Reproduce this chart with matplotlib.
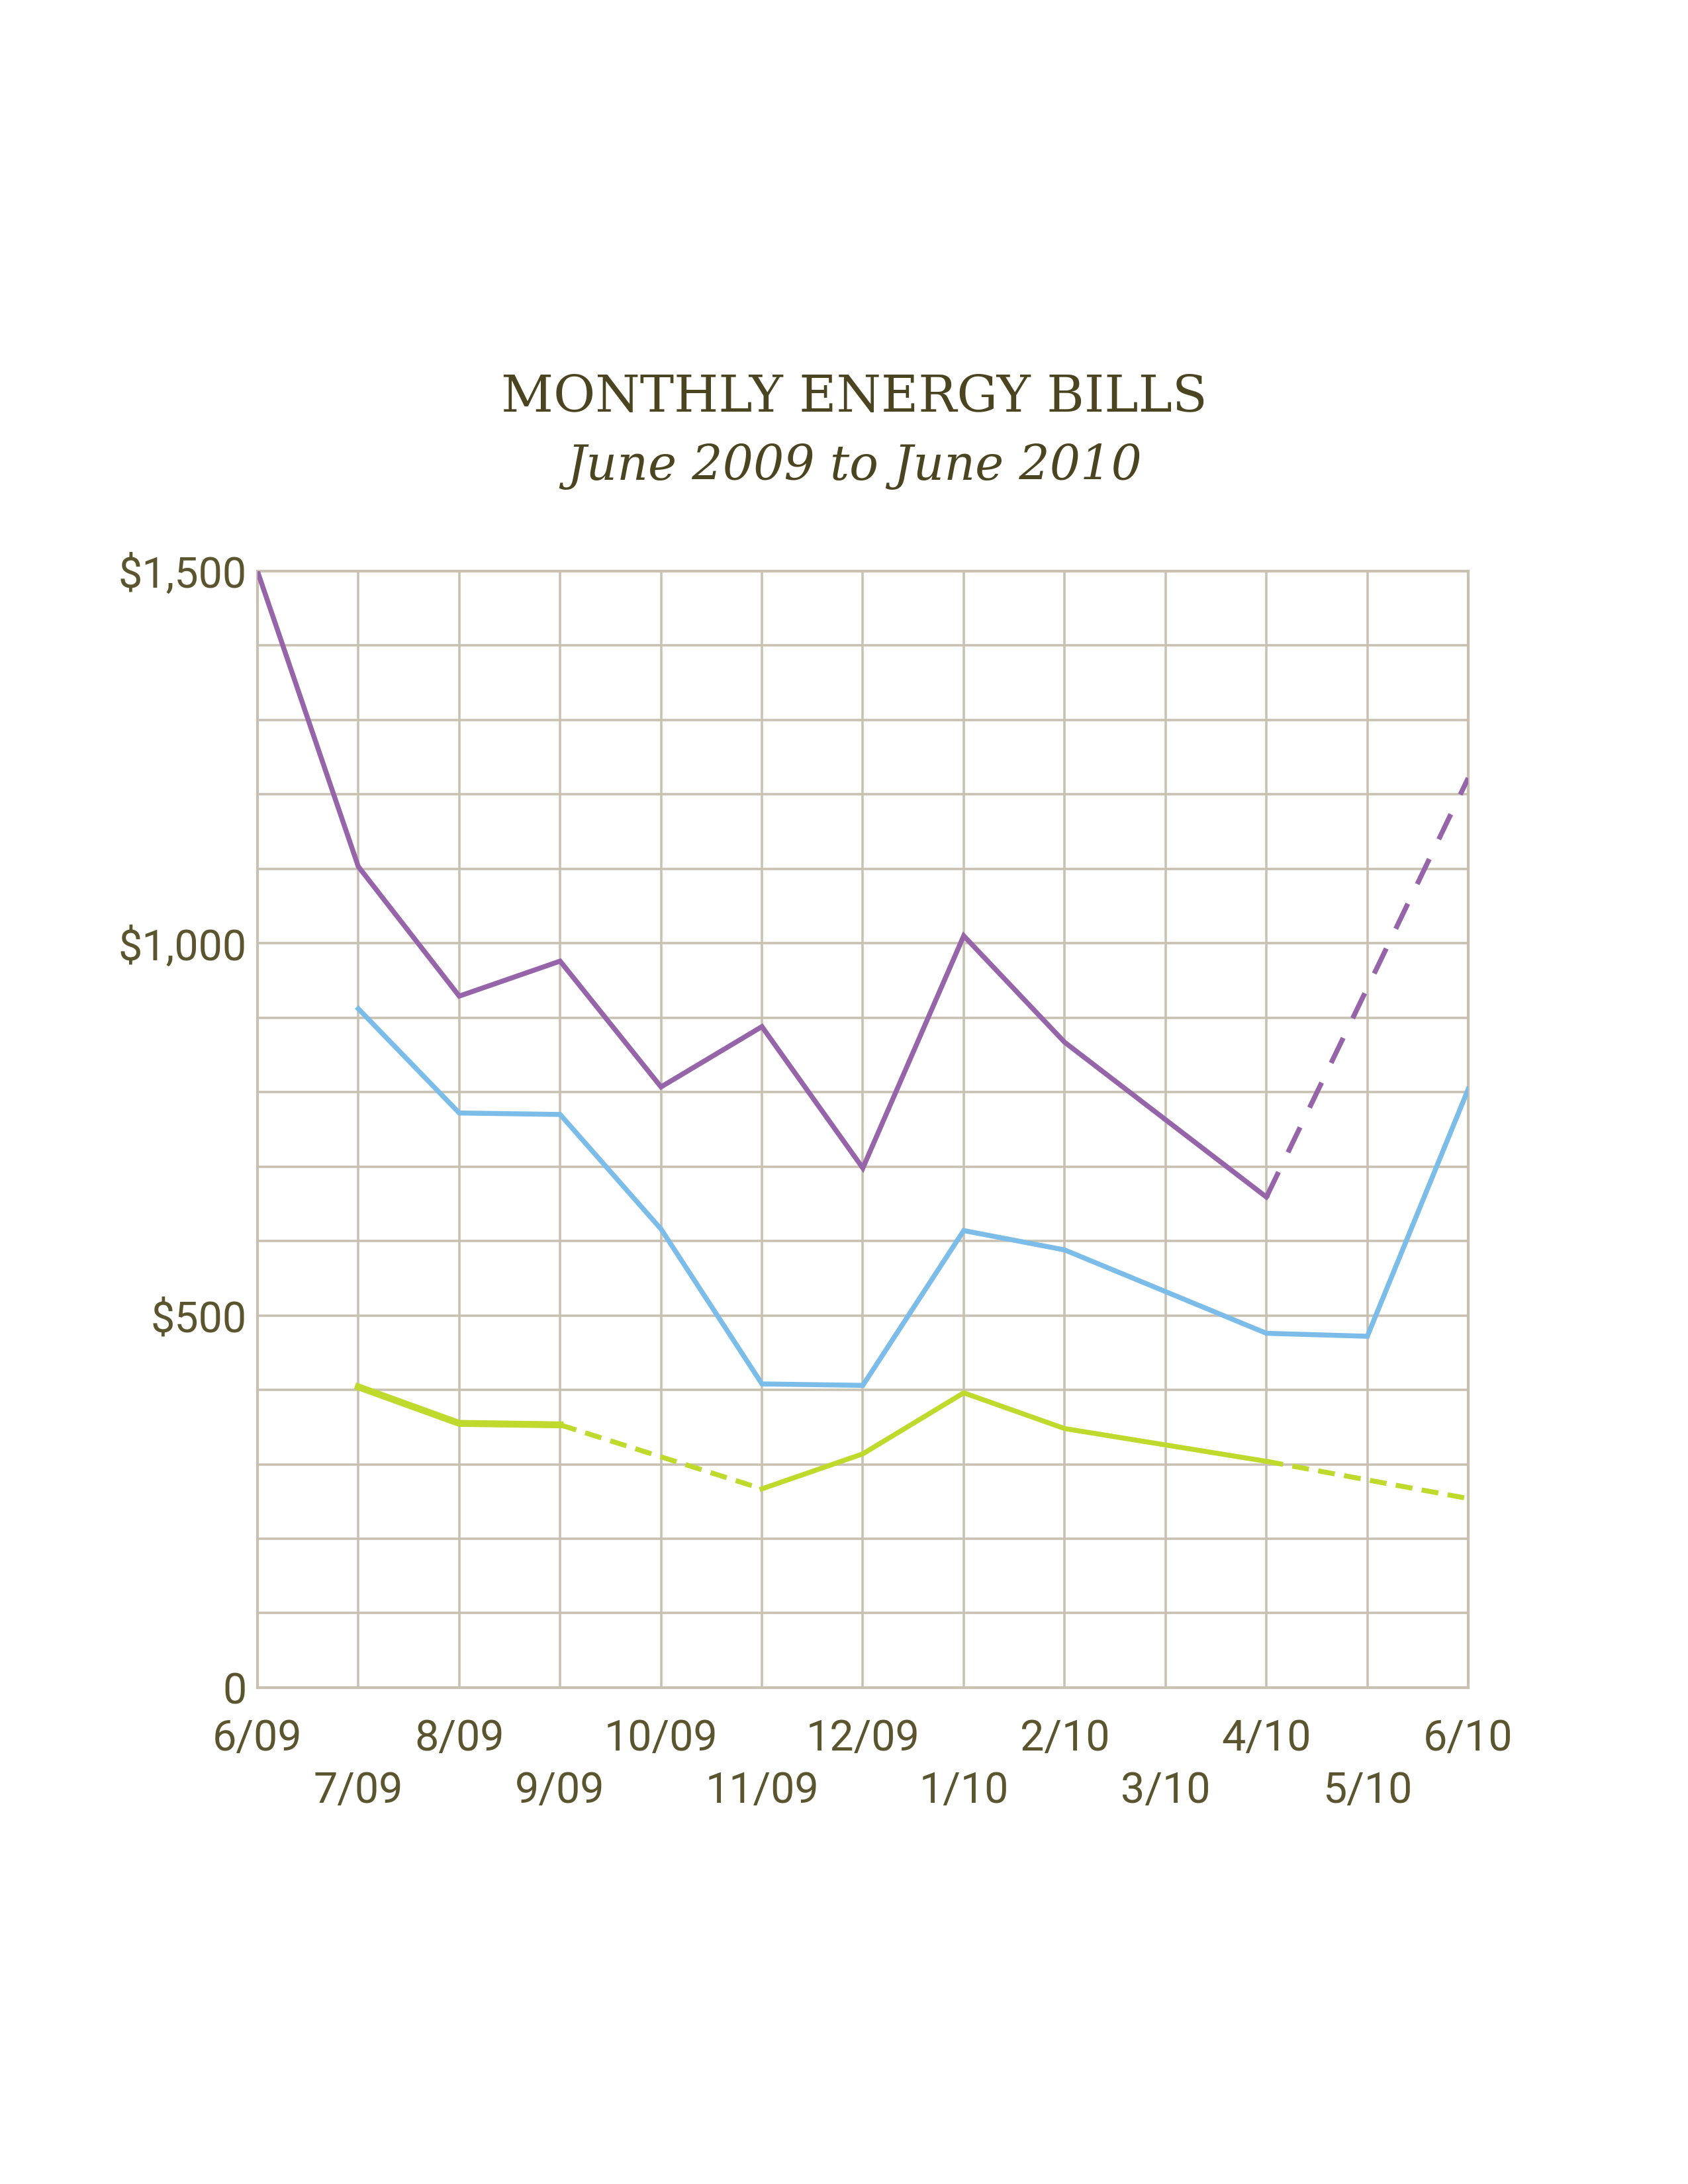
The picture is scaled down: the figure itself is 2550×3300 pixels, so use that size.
import numpy as np
import matplotlib
matplotlib.use("Agg")
import matplotlib.pyplot as plt

# Donnees (nan = pas de valeur)
mois = ["6/09", "7/09", "8/09", "9/09", "10/09", "11/09", "12/09",
        "1/10", "2/10", "3/10", "4/10", "5/10", "6/10"]
violet = [1500, 1103, 929, 976, 807, 888, 698, 1010, 867, 763, 659, 940, 1222]
bleu = [np.nan, 912, 772, 770, 616, 408, 406, 614, 588, 532, 476, 472, 804]
vert = [np.nan, 404, 355, 353, 310, 267, 314, 396, 348, 326, 304, 279, 254]
y_graduations = [0, 500, 1000, 1500]

x = np.arange(len(mois))
violet = np.array(violet, dtype=float)
bleu = np.array(bleu, dtype=float)
vert = np.array(vert, dtype=float)

c_violet = "#9564a9"
c_bleu = "#7bbde8"
c_vert = "#c0d92d"
c_grille = "#c8c1b1"
c_texte = "#4a4520"
c_ticks = "#5a552e"

fig = plt.figure(figsize=(8.5, 11), dpi=300)
ax = fig.add_axes([0.1525, 0.2273, 0.7173, 0.5112])

lw = 1.8
# violet : plein jusqu'a 4/10 puis pointille
ax.plot(x[:11], violet[:11], color=c_violet, lw=lw, solid_joinstyle="miter", zorder=3)
ax.plot(x[10:], violet[10:], color=c_violet, lw=lw, dashes=(5.6, 4.4), zorder=3)
# bleu
ax.plot(x, bleu, color=c_bleu, lw=lw, solid_joinstyle="miter", zorder=3)
# vert : epais, pointille, plein, pointille
ax.plot(x[1:4], vert[1:4], color=c_vert, lw=2.5, solid_joinstyle="miter", zorder=3)
ax.plot(x[3:6], vert[3:6], color=c_vert, lw=lw, dashes=(3.4, 1.9), zorder=3)
ax.plot(x[5:11], vert[5:11], color=c_vert, lw=lw, solid_joinstyle="miter", zorder=3)
ax.plot(x[10:], vert[10:], color=c_vert, lw=lw, dashes=(3.4, 1.9), zorder=3)

ax.set_xlim(0, 12)
ax.set_ylim(0, 1500)

# grille
ax.set_yticks(np.arange(0, 1501, 100))
ax.set_yticklabels(["$" + format(v, ",") if v in y_graduations and v > 0 else ("0" if v == 0 else "")
                    for v in range(0, 1501, 100)])
ax.set_xticks(x[::2], mois[::2])
ax.set_xticks(x[1::2], mois[1::2], minor=True)
ax.grid(True, which="both", color=c_grille, lw=0.85, zorder=1)
ax.set_axisbelow(True)
for s in ax.spines.values():
    s.set_color(c_grille)
    s.set_linewidth(1.0)

ax.tick_params(which="both", length=0, colors=c_ticks)
ax.tick_params(axis="x", which="major", pad=11)
ax.tick_params(axis="x", which="minor", pad=30)
ax.tick_params(axis="y", pad=4)
for t in ax.get_xticklabels(which="both") + ax.get_yticklabels():
    t.set_fontfamily("Roboto")
    t.set_fontweight("normal")
    t.set_fontsize(15.5)

fig.text(0.506, 0.818, "MONTHLY ENERGY BILLS", ha="center", va="center",
         family="DejaVu Serif", size=18.5, color=c_texte)
fig.text(0.506, 0.7864, "June 2009 to June 2010", ha="center", va="center",
         family="DejaVu Serif", style="italic", size=17.5, color=c_texte)

fig.savefig("out.png", dpi=300, facecolor="white")
